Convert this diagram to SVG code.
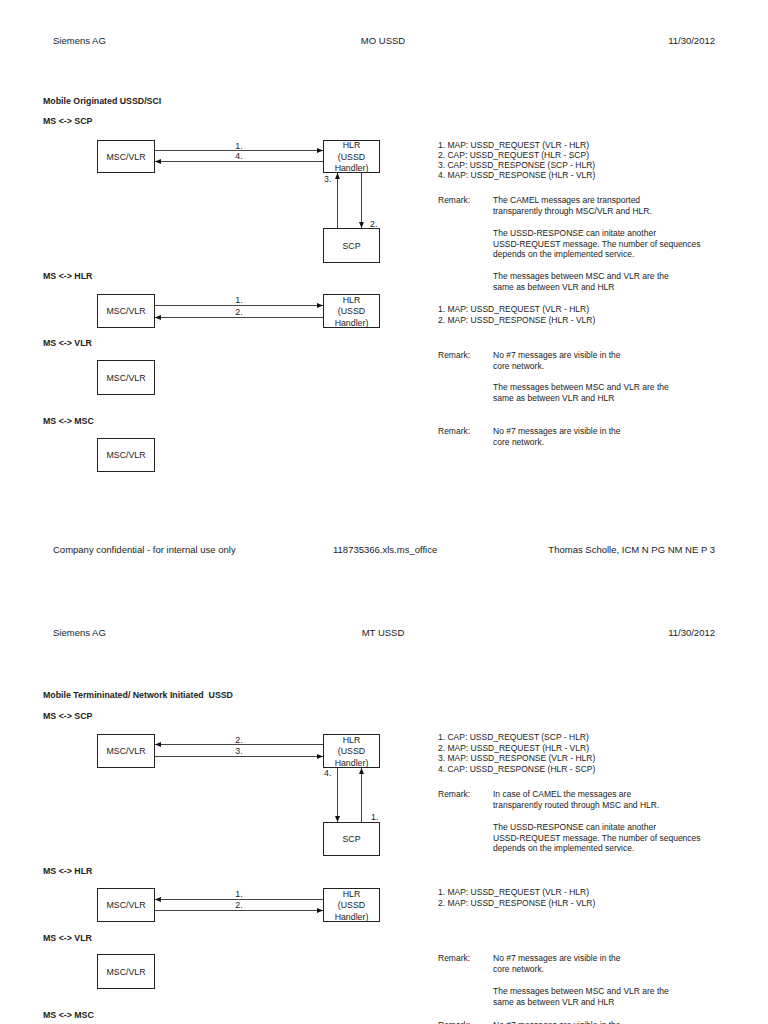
<svg xmlns="http://www.w3.org/2000/svg" width="768" height="1024" viewBox="0 0 768 1024">
<defs>
<marker id="ah" viewBox="0 0 6 6" refX="6" refY="3" markerWidth="6" markerHeight="6" markerUnits="userSpaceOnUse" orient="auto">
<path d="M0,0.5 L6,3 L0,5.5 Z" fill="#111"/>
</marker>
<style>
text{font-family:"Liberation Sans",Arial,sans-serif;fill:#222}
.hf{font-size:9.5px}
.h{font-size:8.8px;font-weight:bold}
.b{font-size:8.5px}
.n{font-size:8.8px;text-anchor:middle}
.lb{font-size:8.8px}
rect{fill:#fff;stroke:#222;stroke-width:1}
.c line{stroke:#444;stroke-width:1;marker-end:url(#ah)}
</style>
</defs>
<rect x="0" y="0" width="768" height="1024" style="fill:#fff;stroke:none"/>

<!-- Page 1 header -->
<text class="hf" x="53" y="44">Siemens AG</text>
<text class="hf" x="383" y="44" text-anchor="middle">MO USSD</text>
<text class="hf" x="715" y="44" text-anchor="end">11/30/2012</text>

<text class="h" x="43" y="104">Mobile Originated USSD/SCI</text>
<text class="h" x="43" y="124">MS &lt;-&gt; SCP</text>

<g id="p1-msc1"><rect x="97.5" y="140.5" width="57" height="32"/><text class="n" x="126" y="159.5">MSC/VLR</text></g>
<g id="p1-hlr1"><rect x="323.5" y="140.5" width="56" height="32"/><text class="n" x="351.5" y="148">HLR</text><text class="n" x="351.5" y="159.5">(USSD</text><text class="n" x="351.5" y="170.5">Handler)</text></g>
<g id="p1-scp"><rect x="323.5" y="228.5" width="56" height="34"/><text class="n" x="351.5" y="248.5">SCP</text></g>

<g class="c" id="p1-conn1">
<line x1="154.5" y1="150.5" x2="323" y2="150.5"/>
<line x1="323" y1="161.5" x2="155" y2="161.5"/>
<line x1="337.5" y1="228" x2="337.5" y2="173"/>
<line x1="361.5" y1="173" x2="361.5" y2="228"/>
</g>
<text class="lb" x="239" y="148.5" text-anchor="middle">1.</text>
<text class="lb" x="239" y="159" text-anchor="middle">4.</text>
<text class="lb" x="324" y="181.5">3.</text>
<text class="lb" x="370" y="226.5">2.</text>

<text class="b" x="438" y="148">1. MAP: USSD_REQUEST (VLR - HLR)</text>
<text class="b" x="438" y="158">2. CAP: USSD_REQUEST (HLR - SCP)</text>
<text class="b" x="438" y="168">3. CAP: USSD_RESPONSE (SCP - HLR)</text>
<text class="b" x="438" y="178">4. MAP: USSD_RESPONSE (HLR - VLR)</text>
<text class="b" x="438" y="203">Remark:</text>
<text class="b" x="493" y="203">The CAMEL messages are transported</text>
<text class="b" x="493" y="213.5">transparently through MSC/VLR and HLR.</text>
<text class="b" x="493" y="236">The USSD-RESPONSE can initate another</text>
<text class="b" x="493" y="246.5">USSD-REQUEST message. The number of sequences</text>
<text class="b" x="493" y="257">depends on the implemented service.</text>
<text class="b" x="493" y="279">The messages between MSC and VLR are the</text>
<text class="b" x="493" y="289.5">same as between VLR and HLR</text>

<text class="h" x="43" y="279">MS &lt;-&gt; HLR</text>
<g id="p1-msc2"><rect x="97.5" y="294.5" width="57" height="33"/><text class="n" x="126" y="314">MSC/VLR</text></g>
<g id="p1-hlr2"><rect x="323.5" y="294.5" width="56" height="33"/><text class="n" x="351.5" y="302.5">HLR</text><text class="n" x="351.5" y="314">(USSD</text><text class="n" x="351.5" y="325.5">Handler)</text></g>
<g class="c" id="p1-conn2">
<line x1="154.5" y1="305.5" x2="323" y2="305.5"/>
<line x1="323" y1="317.5" x2="155" y2="317.5"/>
</g>
<text class="lb" x="239" y="303" text-anchor="middle">1.</text>
<text class="lb" x="239" y="314.5" text-anchor="middle">2.</text>
<text class="b" x="438" y="312">1. MAP: USSD_REQUEST (VLR - HLR)</text>
<text class="b" x="438" y="322.5">2. MAP: USSD_RESPONSE (HLR - VLR)</text>

<text class="h" x="43" y="346">MS &lt;-&gt; VLR</text>
<g id="p1-msc3"><rect x="97.5" y="360.5" width="57" height="34"/><text class="n" x="126" y="380.5">MSC/VLR</text></g>
<text class="b" x="438" y="358">Remark:</text>
<text class="b" x="493" y="358">No #7 messages are visible in the</text>
<text class="b" x="493" y="368.5">core network.</text>
<text class="b" x="493" y="390">The messages between MSC and VLR are the</text>
<text class="b" x="493" y="400.5">same as between VLR and HLR</text>

<text class="h" x="43" y="424">MS &lt;-&gt; MSC</text>
<g id="p1-msc4"><rect x="97.5" y="438.5" width="57" height="33"/><text class="n" x="126" y="458">MSC/VLR</text></g>
<text class="b" x="438" y="434">Remark:</text>
<text class="b" x="493" y="434">No #7 messages are visible in the</text>
<text class="b" x="493" y="444.5">core network.</text>

<!-- Page 1 footer -->
<text class="hf" x="53" y="553">Company confidential - for internal use only</text>
<text class="hf" x="333" y="553">118735366.xls.ms_office</text>
<text class="hf" x="715" y="553" text-anchor="end">Thomas Scholle, ICM N PG NM NE P 3</text>

<!-- Page 2 header -->
<text class="hf" x="53" y="636">Siemens AG</text>
<text class="hf" x="383" y="636" text-anchor="middle">MT USSD</text>
<text class="hf" x="715" y="636" text-anchor="end">11/30/2012</text>

<text class="h" x="43" y="698" xml:space="preserve">Mobile Termininated/ Network Initiated  USSD</text>
<text class="h" x="43" y="719">MS &lt;-&gt; SCP</text>

<g id="p2-msc1"><rect x="97.5" y="734.5" width="57" height="33"/><text class="n" x="126" y="754">MSC/VLR</text></g>
<g id="p2-hlr1"><rect x="323.5" y="734.5" width="56" height="33"/><text class="n" x="351.5" y="742.5">HLR</text><text class="n" x="351.5" y="754">(USSD</text><text class="n" x="351.5" y="765.5">Handler)</text></g>
<g id="p2-scp"><rect x="323.5" y="822.5" width="56" height="33"/><text class="n" x="351.5" y="842">SCP</text></g>
<g class="c" id="p2-conn1">
<line x1="323" y1="744.5" x2="155" y2="744.5"/>
<line x1="154.5" y1="756.5" x2="323" y2="756.5"/>
<line x1="337.5" y1="768" x2="337.5" y2="822"/>
<line x1="361.5" y1="822" x2="361.5" y2="768"/>
</g>
<text class="lb" x="239" y="742.5" text-anchor="middle">2.</text>
<text class="lb" x="239" y="753.5" text-anchor="middle">3.</text>
<text class="lb" x="324" y="776">4.</text>
<text class="lb" x="371" y="819.5">1.</text>

<text class="b" x="438" y="740">1. CAP: USSD_REQUEST (SCP - HLR)</text>
<text class="b" x="438" y="750.5">2. MAP: USSD_REQUEST (HLR - VLR)</text>
<text class="b" x="438" y="761">3. MAP: USSD_RESPONSE (VLR - HLR)</text>
<text class="b" x="438" y="771.5">4. CAP: USSD_RESPONSE (HLR - SCP)</text>
<text class="b" x="438" y="797">Remark:</text>
<text class="b" x="493" y="797">In case of CAMEL the messages are</text>
<text class="b" x="493" y="807.5">transparently routed through MSC and HLR.</text>
<text class="b" x="493" y="830">The USSD-RESPONSE can initate another</text>
<text class="b" x="493" y="840.5">USSD-REQUEST message. The number of sequences</text>
<text class="b" x="493" y="851">depends on the implemented service.</text>

<text class="h" x="43" y="874">MS &lt;-&gt; HLR</text>
<g id="p2-msc2"><rect x="97.5" y="888.5" width="57" height="33"/><text class="n" x="126" y="908">MSC/VLR</text></g>
<g id="p2-hlr2"><rect x="323.5" y="888.5" width="56" height="33"/><text class="n" x="351.5" y="896.5">HLR</text><text class="n" x="351.5" y="908">(USSD</text><text class="n" x="351.5" y="919.5">Handler)</text></g>
<g class="c" id="p2-conn2">
<line x1="323" y1="899.5" x2="155" y2="899.5"/>
<line x1="154.5" y1="910.5" x2="323" y2="910.5"/>
</g>
<text class="lb" x="239" y="897" text-anchor="middle">1.</text>
<text class="lb" x="239" y="908" text-anchor="middle">2.</text>
<text class="b" x="438" y="895">1. MAP: USSD_REQUEST (VLR - HLR)</text>
<text class="b" x="438" y="905.5">2. MAP: USSD_RESPONSE (HLR - VLR)</text>

<text class="h" x="43" y="941">MS &lt;-&gt; VLR</text>
<g id="p2-msc3"><rect x="97.5" y="954.5" width="57" height="34"/><text class="n" x="126" y="974.5">MSC/VLR</text></g>
<text class="b" x="438" y="961">Remark:</text>
<text class="b" x="493" y="961">No #7 messages are visible in the</text>
<text class="b" x="493" y="971.5">core network.</text>
<text class="b" x="493" y="994">The messages between MSC and VLR are the</text>
<text class="b" x="493" y="1004.5">same as between VLR and HLR</text>

<text class="h" x="43" y="1018">MS &lt;-&gt; MSC</text>
<text class="b" x="438" y="1028">Remark:</text>
<text class="b" x="493" y="1028">No #7 messages are visible in the</text>
</svg>
